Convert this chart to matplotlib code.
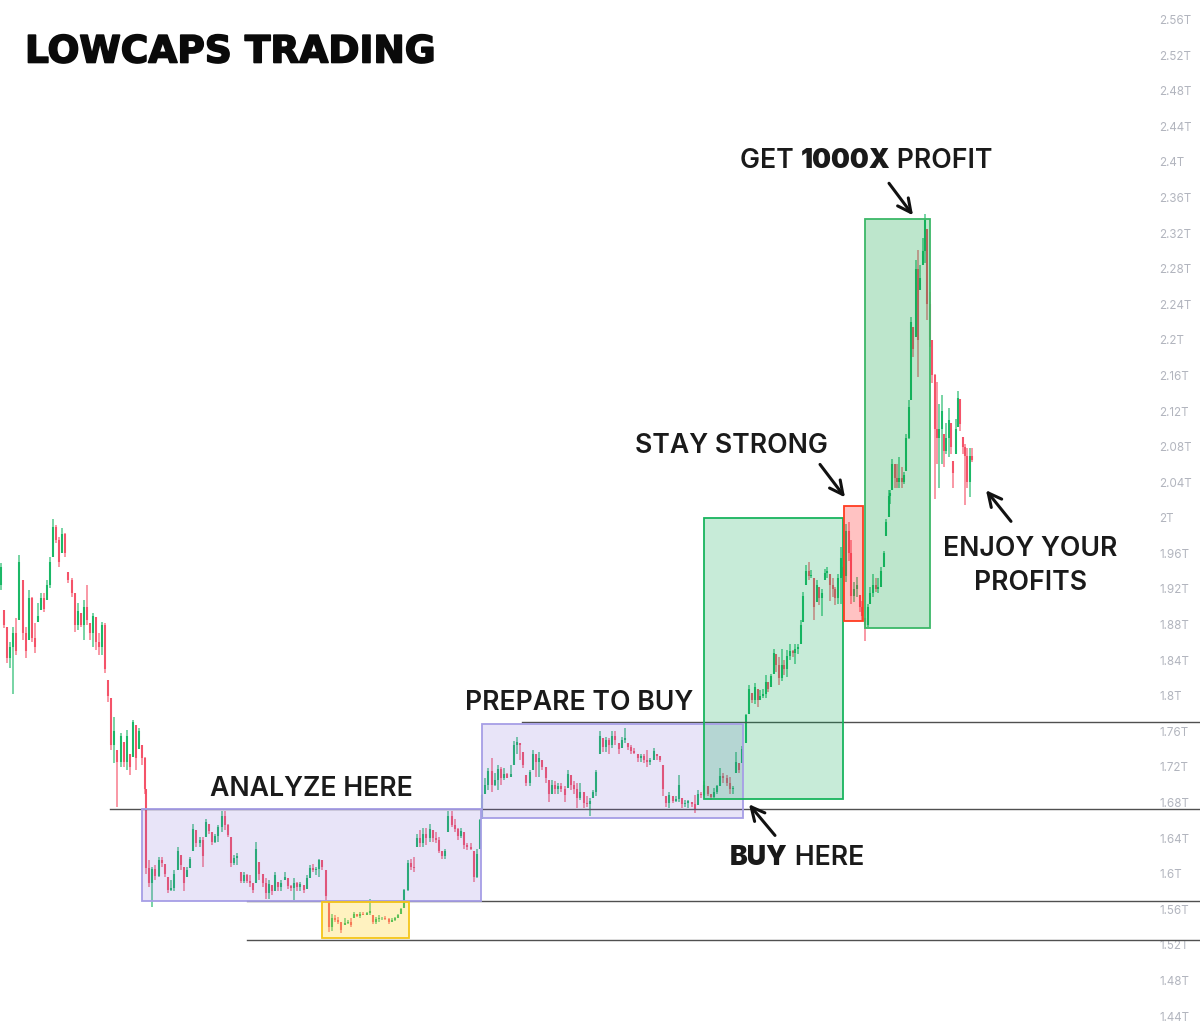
import numpy as np
from matplotlib import pyplot as plt
from matplotlib.patches import Rectangle
from matplotlib import patheffects

# prices are in billions, x is a plain time position across the picture
A_high = [1950,1949,1896,1877,1860,1877,1887,1958,1930,1877,
          1919,1911,1882,1904,1915,1915,1930,1956,1999,1992,
          1978,1988,1983,1939,1932,1915,1904,1893,1908,1925,
          1882,1893,1888,1870,1883,1882,1818,1798,1776,1739,
          1758,1748,1761,1735,1773,1767,1764,1745,1731]
A_low = [1908,1919,1876,1837,1831,1802,1846,1885,1863,1842,
         1863,1860,1848,1883,1896,1894,1908,1921,1956,1972,
         1945,1961,1956,1927,1911,1872,1874,1877,1863,1879,
         1863,1855,1851,1846,1846,1826,1793,1739,1724,1675,
         1720,1720,1717,1711,1731,1717,1740,1722,1690]
A_close = [1925,1945,1880,1842,1855,1870,1850,1950,1870,1850,
           1910,1865,1855,1890,1910,1897,1925,1950,1990,1975,
           1950,1982,1960,1930,1915,1880,1895,1880,1900,1885,
           1870,1890,1860,1855,1880,1830,1800,1745,1760,1725,
           1755,1725,1755,1720,1770,1730,1760,1730,1695]

B_high = [1695,1615,1608,1610,1619,1619,1611,1596,1593,1604,
          1630,1621,1608,1608,1619,1656,1649,1641,1641,1662,
          1656,1647,1645,1655,1670,1670,1656,1641,1621,1623,
          1602,1602,1600,1598,1589,1636,1613,1600,1595,1593,
          1587,1602,1591,1593,1602,1595,1587,1595,1591,1591,
          1587,1598,1610,1611,1608,1617,1615,1604,1568,1555,
          1553,1551,1546,1550,1548,1550,1557,1555,1557,1557,
          1557,1572,1553,1551,1553,1551,1552,1550,1550,1551,
          1555,1561,1583,1615,1617,1619,1645,1649,1651,1651,
          1656,1649,1647,1641,1625,1628,1670,1670,1662,1651,
          1651,1647,1634,1634,1625,1628,1662]
B_low = [1600,1585,1563,1593,1596,1608,1596,1578,1580,1581,
         1604,1604,1581,1596,1606,1626,1630,1630,1608,1641,
         1645,1632,1634,1636,1647,1649,1641,1608,1610,1610,
         1589,1589,1589,1585,1578,1589,1593,1585,1572,1572,
         1576,1580,1581,1581,1593,1583,1581,1570,1581,1581,
         1578,1583,1595,1602,1598,1596,1604,1570,1535,1536,
         1546,1544,1533,1542,1544,1540,1550,1551,1550,1553,
         1553,1553,1544,1544,1546,1548,1548,1544,1546,1547,
         1550,1555,1561,1581,1604,1602,1630,1630,1630,1632,
         1636,1636,1634,1623,1617,1617,1647,1653,1647,1638,
         1640,1628,1627,1627,1591,1595,1628]
B_close = [1606,1590,1605,1597,1615,1612,1600,1582,1584,1600,
           1625,1610,1590,1604,1616,1650,1635,1638,1620,1658,
           1648,1636,1642,1652,1665,1655,1644,1612,1618,1620,
           1592,1598,1592,1590,1582,1628,1600,1590,1578,1588,
           1580,1598,1585,1590,1596,1586,1584,1590,1585,1588,
           1582,1595,1606,1604,1605,1615,1608,1575,1540,1550,
           1548,1546,1537,1545,1546,1542,1555,1552,1555,1554,
           1556,1558,1546,1549,1550,1550,1549,1546,1548,1550,
           1554,1560,1582,1612,1608,1606,1640,1635,1645,1640,
           1650,1640,1638,1626,1620,1626,1665,1655,1650,1642,
           1648,1632,1630,1628,1596,1622,1660]

C_high = [1690,1707,1719,1730,1713,1722,1720,1719,1713,1722,
          1749,1754,1747,1737,1711,1717,1739,1734,1737,1728,
          1720,1705,1705,1704,1702,1702,1698,1717,1711,1704,
          1702,1702,1692,1687,1685,1694,1717,1760,1752,1754,
          1752,1760,1760,1747,1754,1764,1747,1745,1741,1734,
          1734,1734,1739,1730,1741,1734,1732,1722,1687,1692,
          1687,1687,1711,1685,1683,1683,1681,1689,1694,1692,
          1704,1698,1690,1696,1700,1719,1713,1711,1709,1698,
          1737,1724,1743,1780,1812,1803]
C_low = [1662,1690,1694,1692,1698,1694,1700,1705,1707,1709,
         1722,1735,1728,1719,1698,1698,1717,1709,1709,1717,
         1702,1681,1690,1690,1690,1692,1681,1696,1694,1690,
         1674,1683,1674,1675,1665,1685,1687,1735,1737,1737,
         1735,1741,1745,1735,1741,1747,1739,1734,1734,1726,
         1726,1724,1720,1722,1728,1728,1726,1687,1675,1674,
         1679,1681,1681,1674,1675,1674,1675,1668,1677,1685,
         1687,1687,1683,1685,1690,1698,1702,1698,1690,1690,
         1713,1713,1724,1747,1780,1792]
C_close = [1688,1700,1715,1700,1705,1718,1708,1712,1708,1712,
           1745,1748,1745,1722,1702,1714,1735,1725,1730,1720,
           1708,1690,1700,1695,1698,1695,1688,1712,1700,1695,
           1685,1692,1680,1678,1682,1692,1714,1755,1742,1750,
           1745,1755,1750,1740,1750,1752,1742,1738,1736,1730,
           1732,1728,1725,1728,1738,1732,1728,1695,1680,1688,
           1682,1684,1700,1678,1680,1682,1678,1672,1690,1688,
           1700,1690,1686,1692,1698,1710,1708,1702,1695,1696,
           1725,1716,1740,1778,1808,1795]

D_high = [1814,1808,1806,1808,1823,1815,1825,1853,1847,1843,
          1853,1840,1851,1858,1851,1858,1858,1885,1917,1947,
          1950,1941,1932,1930,1922,1920,1943,1945,1937,1932,
          1922,1937,1967,1945,1993,1995,1975,1928,1933,1913,
          1907,1887,1903,1922,1937,1932,1932,1945,1963,1999,
          2031]
D_low = [1791,1787,1795,1798,1798,1804,1810,1825,1827,1812,
         1817,1823,1821,1840,1843,1836,1847,1858,1883,1924,
         1930,1932,1885,1905,1902,1890,1930,1932,1907,1911,
         1902,1903,1903,1930,1928,1952,1903,1905,1911,1894,
         1885,1862,1877,1903,1911,1917,1915,1922,1945,1980,
         2001]
D_close = [1810,1795,1800,1802,1815,1808,1822,1848,1835,1820,
           1835,1830,1845,1850,1848,1852,1855,1880,1912,1940,
           1935,1936,1900,1925,1910,1915,1938,1940,1925,1920,
           1910,1932,1955,1935,1985,1960,1912,1920,1925,1900,
           1890,1880,1900,1915,1925,1920,1922,1940,1960,1995,
           2025]

E_high = [2031,2066,2061,2061,2068,2057,2051,2094,2132,2226,
          2214,2290,2301,2284,2314,2342,2325,2254,2200,2162,
          2153,2128,2138,2094,2106,2123,2106,2064,2111,2143,
          2134,2091,2083,2079,2079,2078]
E_low = [2016,2031,2034,2034,2034,2034,2038,2053,2089,2132,
         2181,2203,2158,2256,2284,2286,2222,2192,2151,2021,
         2061,2033,2061,2057,2072,2068,2072,2033,2072,2102,
         2098,2072,2014,2034,2023,2063]
E_close = [2028,2060,2045,2040,2045,2040,2048,2090,2125,2220,
           2190,2280,2200,2270,2300,2335,2240,2200,2160,2100,
           2090,2100,2120,2075,2090,2110,2080,2050,2100,2135,
           2105,2080,2070,2040,2070,2065]

price_ticks = [2560,2520,2480,2440,2400,2360,2320,2280,2240,2200,
               2160,2120,2080,2040,2000,1960,1920,1880,1840,1800,
               1760,1720,1680,1640,1600,1560,1520,1480,1440]
price_labels = ['2.56T','2.52T','2.48T','2.44T','2.4T','2.36T','2.32T','2.28T','2.24T','2.2T',
                '2.16T','2.12T','2.08T','2.04T','2T','1.96T','1.92T','1.88T','1.84T','1.8T',
                '1.76T','1.72T','1.68T','1.64T','1.6T','1.56T','1.52T','1.48T','1.44T']

# level line: price, start of the line
levels = [(1770, 522), (1673, 110), (1569, 247), (1526, 247)]

# boxes: x0, x1, low price, high price, edge, fill, fill alpha
boxes = [(142, 481, 1569, 1673, '#a69ee6', '#7b61d8', 0.17),
         (482, 743, 1663, 1768, '#a69ee6', '#7b61d8', 0.17),
         (704, 843, 1684, 2000, '#18b45e', '#00a850', 0.22),
         (865, 930, 1876, 2336, '#3cb868', '#00a03c', 0.26),
         (844, 863, 1884, 2013, '#ff3b20', '#ff2020', 0.27),
         (322, 409, 1528, 1568, '#f5c518', '#ffd530', 0.30)]

# arrows: from x, from price, to x, to price
arrows = [(889, 2376, 913, 2340), (820, 2060, 845, 2023),
          (1011, 1996, 986, 2031), (775, 1643, 749, 1678)]

plt.rcParams['font.family'] = ['Inter', 'DejaVu Sans']

fig = plt.figure(figsize=(12, 10.26), dpi=100)
ax = fig.add_axes([0, 0, 1, 1])
ax.set_xlim(0, 1200)
ax.set_ylim(1428.8, 2582)
for s in ax.spines.values():
    s.set_visible(False)
ax.xaxis.set_visible(False)

# candles
segs = [(A_high, A_low, A_close, -2, 145),
        (B_high, B_low, B_close, 146, 480),
        (C_high, C_low, C_close, 482, 752),
        (D_high, D_low, D_close, 755, 889),
        (E_high, E_low, E_close, 890, 972)]
xs = np.concatenate([np.linspace(s[3], s[4], len(s[0])) for s in segs])
highs = np.concatenate([s[0] for s in segs])
lows = np.concatenate([s[1] for s in segs])
closes = np.concatenate([s[2] for s in segs])
opens = np.clip(np.r_[closes[0], closes[:-1]], lows, highs)

up = closes >= opens
colors = np.where(up, '#0bb35c', '#f4475f')
ax.vlines(xs, lows, highs, colors=list(colors), linewidth=1.3, alpha=0.6, zorder=2)
ax.vlines(xs, opens, closes, colors=list(colors), linewidth=1.5, alpha=0.85, zorder=2.1)

# levels and boxes
for price, start in levels:
    ax.plot([start, 1200], [price, price], color='#505050', linewidth=1.0, zorder=3)

for x0, x1, lo, hi, edge, fill, a in boxes:
    ax.add_patch(Rectangle((x0, lo), x1 - x0, hi - lo, facecolor=fill, alpha=a, edgecolor='none', zorder=4))
    ax.add_patch(Rectangle((x0, lo), x1 - x0, hi - lo, facecolor='none', edgecolor=edge, linewidth=1.3, zorder=4.1))

for x0, p0, x1, p1 in arrows:
    ax.annotate('', xy=(x1, p1), xytext=(x0, p0),
                arrowprops=dict(arrowstyle='->', color='#111111', lw=2.2, mutation_scale=24,
                                shrinkA=0, shrinkB=0), zorder=5)

# price scale sits inside the picture
ax.yaxis.tick_right()
ax.set_yticks(price_ticks)
ax.set_yticklabels(price_labels, ha='left', fontsize=8.4, color='#b2b5be')
ax.tick_params(axis='y', length=0, pad=-29.5)

# labels
SIZE = 19.2
def label(x, price, parts):
    # parts: (text, weight), drawn one after the other from x
    r = fig.canvas.get_renderer()
    for txt, w in parts:
        t = ax.text(x, price, txt, fontsize=SIZE, fontweight=w, color='#1a1a1a', va='center', ha='left', zorder=6)
        x += t.get_window_extent(r).width

for x, price, txt in [(311, 1695, 'ANALYZE HERE'), (579, 1792, 'PREPARE TO BUY'),
                      (731, 2081, 'STAY STRONG'), (1030, 1965, 'ENJOY YOUR'), (1030, 1927, 'PROFITS')]:
    ax.text(x, price, txt, fontsize=SIZE, fontweight='semibold', color='#1a1a1a', ha='center', va='center', zorder=6)
label(740, 2401, [('GET ', 'semibold'), ('1000X', 'black'), (' PROFIT', 'semibold')])
label(730, 1618, [('BUY', 'black'), (' HERE', 'semibold')])

title = ax.text(25, 2523, 'LOWCAPS TRADING', fontsize=27, fontweight='bold', family=['DejaVu Sans'],
                color='#0a0a0a', ha='left', va='center', zorder=6)
title.set_path_effects([patheffects.withStroke(linewidth=1.2, foreground='#0a0a0a')])

fig.savefig('out.png', dpi=100)
